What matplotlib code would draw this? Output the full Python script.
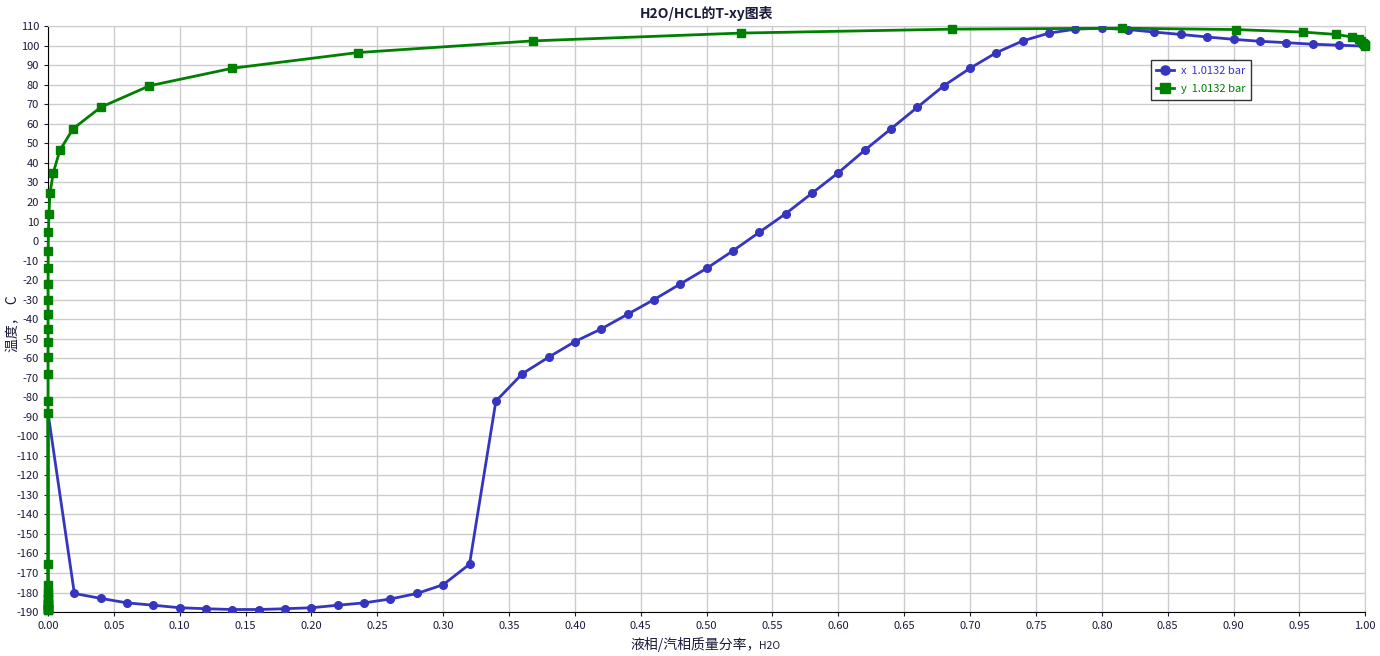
import numpy as np
import matplotlib
matplotlib.use('Agg')
import matplotlib.pyplot as plt
from matplotlib.ticker import MultipleLocator, FormatStrFormatter

plt.rcParams['font.family'] = ['Noto Sans CJK SC', 'DejaVu Sans']
plt.rcParams['axes.unicode_minus'] = False

# liquid phase (x) composition and temperature
x_liq = [0.00, 0.02, 0.04, 0.06, 0.08, 0.10, 0.12, 0.14, 0.16, 0.18, 0.20,
         0.22, 0.24, 0.26, 0.28, 0.30, 0.32, 0.34, 0.36, 0.38, 0.40,
         0.42, 0.44, 0.46, 0.48, 0.50, 0.52, 0.54, 0.56, 0.58, 0.60,
         0.62, 0.64, 0.66, 0.68, 0.70, 0.72, 0.74, 0.76, 0.78, 0.80,
         0.82, 0.84, 0.86, 0.88, 0.90, 0.92, 0.94, 0.96, 0.98, 1.00]
temp = [-88.0, -180.5, -183.0, -185.3, -186.5, -187.8, -188.3, -188.7, -188.7, -188.3, -187.8,
        -186.5, -185.3, -183.3, -180.5, -176.0, -165.5, -82.0, -68.0, -59.5, -51.5,
        -45.0, -37.5, -30.0, -22.0, -14.0, -5.0, 4.5, 14.0, 24.5, 35.0,
        46.5, 57.5, 68.5, 79.5, 88.5, 96.5, 102.5, 106.5, 108.5, 109.0,
        108.3, 107.0, 105.8, 104.5, 103.3, 102.3, 101.6, 100.8, 100.3, 99.8]
# vapour phase (y) composition at the same temperatures
y_vap = [0.0, 0.0, 0.0, 0.0, 0.0, 0.0, 0.0, 0.0, 0.0, 0.0, 0.0,
         0.0, 0.0, 0.0, 0.0, 0.0, 0.0, 0.0, 0.0, 0.0, 0.0,
         0.0, 0.0, 0.0, 0.0, 0.0001, 0.0001, 0.0003, 0.0007, 0.0015, 0.004,
         0.009, 0.019, 0.040, 0.077, 0.140, 0.235, 0.368, 0.526, 0.686, 0.815,
         0.902, 0.953, 0.978, 0.990, 0.995, 0.997, 0.998, 0.999, 0.9995, 1.0]

blue = '#3535c0'
green = '#008000'
txt = '#1a1a3a'

fig = plt.figure(figsize=(13.8, 6.56), dpi=100)
ax = fig.add_axes([0.0348, 0.067, 0.9545, 0.893])

ax.plot(x_liq, temp, color=blue, lw=2, marker='o', ms=5.5, label='x  1.0132 bar', zorder=3)
ax.plot(y_vap, temp, color=green, lw=2, marker='s', ms=6, label='y  1.0132 bar', zorder=4,
        clip_on=False)

ax.set_xlim(0, 1)
ax.set_ylim(-190, 110)
ax.xaxis.set_major_locator(MultipleLocator(0.05))
ax.xaxis.set_major_formatter(FormatStrFormatter('%.2f'))
ax.yaxis.set_major_locator(MultipleLocator(10))
ax.grid(True, color='#cccccc', lw=1)
ax.set_axisbelow(True)
for s in ['top', 'right']:
    ax.spines[s].set_color('#cccccc')
ax.tick_params(labelsize=8, colors=txt, length=3)

ax.set_title('H2O/HCL的T-xy图表', fontsize=10, fontweight='bold', color=txt, pad=6)
# x label: main part plus a smaller component name
fig.text(0.4565, 0.018, '液相/汽相质量分率，', fontsize=10, color=txt, ha='left', va='center')
fig.text(0.550, 0.016, 'H2O', fontsize=7.5, color=txt, ha='left', va='center')
ax.set_ylabel('温度，  C', fontsize=10, color=txt)
ax.yaxis.set_label_coords(-0.021, 0.493)

leg = ax.legend(loc='upper left', bbox_to_anchor=(0.837, 0.942), fontsize=8,
                frameon=True, fancybox=False, edgecolor='black', handlelength=1.6,
                handletextpad=0.6, borderpad=0.5, labelspacing=0.75, borderaxespad=0,
                markerscale=1.2)
leg.get_frame().set_linewidth(1)
for t, c in zip(leg.get_texts(), [blue, green]):
    t.set_color(c)

fig.savefig('out.png', dpi=100)
